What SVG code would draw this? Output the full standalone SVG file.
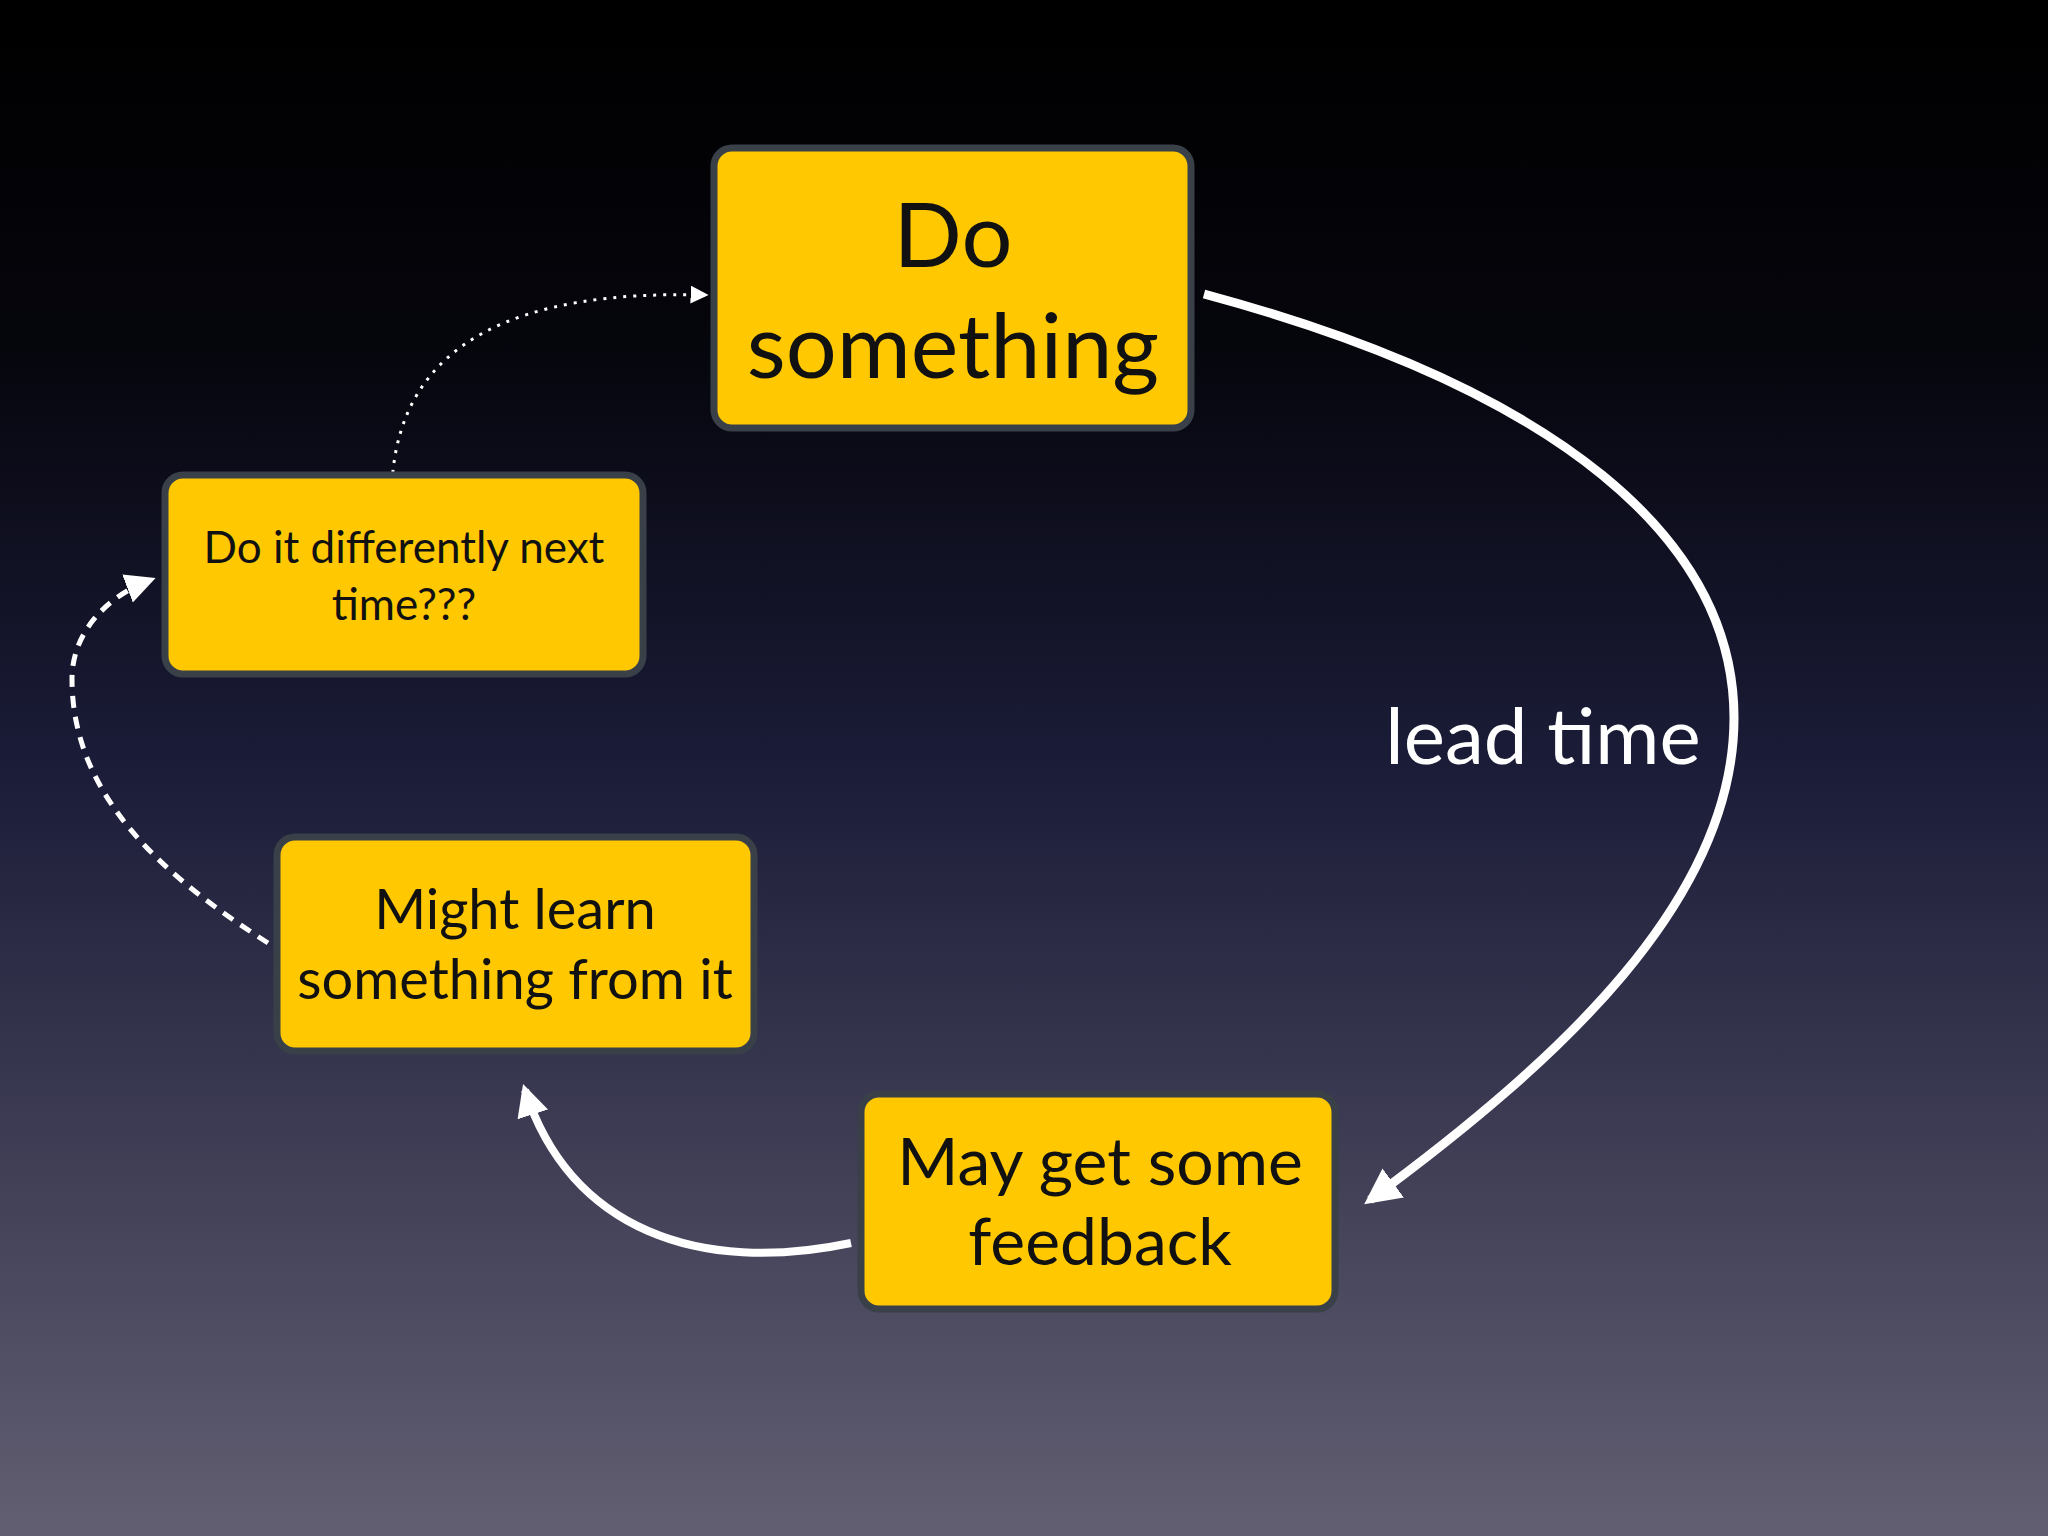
<svg xmlns="http://www.w3.org/2000/svg" width="2048" height="1536" viewBox="0 0 2048 1536">
<defs>
<linearGradient id="bg" x1="0" y1="0" x2="0" y2="1">
<stop offset="0" stop-color="#000"/><stop offset="0.22" stop-color="#05050c"/><stop offset="0.5" stop-color="#1b1c38"/><stop offset="1" stop-color="#625f72"/>
</linearGradient>
<marker id="ah" viewBox="0 0 10 10" refX="8" refY="5" markerWidth="4" markerHeight="4" orient="auto" markerUnits="strokeWidth"><path d="M0,0 L10,5 L0,10 Z" fill="#fff"/></marker>
<marker id="ahs" viewBox="0 0 10 10" refX="8" refY="5" markerWidth="6" markerHeight="6" orient="auto" markerUnits="strokeWidth"><path d="M0,0 L10,5 L0,10 Z" fill="#fff"/></marker>
</defs>
<style>
.box{fill:#ffc800;stroke:#3a4048;stroke-width:7}
.t{font-family:"Lato","Open Sans",sans-serif;fill:#111;text-anchor:middle}
.c{fill:none;stroke:#fff}
</style>
<rect width="2048" height="1536" fill="url(#bg)"/>
<g id="connectors">
<path class="c" d="M1204,294 C1560,390 1734,540 1734,718 C1734,900 1560,1060 1370,1200" stroke-width="9" marker-end="url(#ah)"/>
<text x="1543" y="764" font-family="Lato,sans-serif" font-size="78" fill="#fff" text-anchor="middle">lead time</text>
<path class="c" d="M851,1243 C700,1275 570,1230 525,1090" stroke-width="8" marker-end="url(#ah)"/>
<path class="c" d="M268,943 C170,880 72,800 72,679 C72,630 110,595 150,580" stroke-width="5" stroke-dasharray="12,9" marker-end="url(#ahs)"/>
<path class="c" d="M392,483 C400,340 520,290 705,295" stroke-width="3" stroke-dasharray="3,7" marker-end="url(#ahs)"/>
</g>
<g id="n1"><rect class="box" x="714" y="148" width="477" height="280" rx="18"/>
<text class="t" x="953" y="267" font-size="90">Do</text><text class="t" x="953" y="378" font-size="90">something</text></g>
<g id="n2"><rect class="box" x="165" y="475" width="478" height="199" rx="18"/>
<text class="t" x="404" y="563" font-size="44">Do it differently next</text><text class="t" x="404" y="620" font-size="44">time???</text></g>
<g id="n3"><rect class="box" x="277" y="837" width="477" height="214" rx="18"/>
<text class="t" x="515" y="929" font-size="56">Might learn</text><text class="t" x="515" y="999" font-size="56">something from it</text></g>
<g id="n4"><rect class="box" x="861" y="1094" width="474" height="215" rx="18"/>
<text class="t" x="1100" y="1185" font-size="66">May get some</text><text class="t" x="1100" y="1265" font-size="66">feedback</text></g>
</svg>
